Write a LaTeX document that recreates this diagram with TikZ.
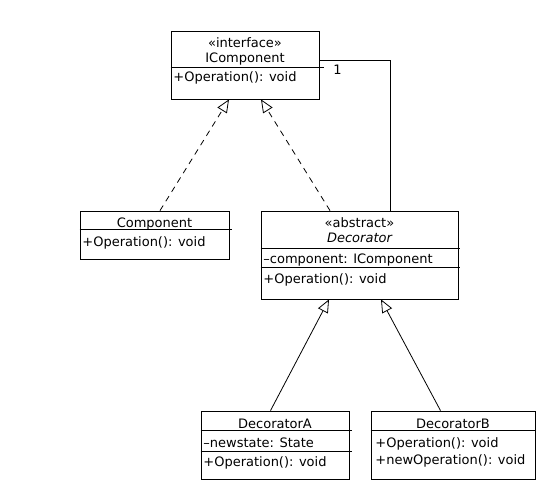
\documentclass[tikz,border=0pt]{standalone}
\usepackage{fontspec}
\setmainfont{DejaVu Sans}
\usetikzlibrary{arrows.meta}
\tikzset{
  umlbox/.style={draw, rectangle, inner sep=0pt},
  lbl/.style={anchor=base west, inner sep=0pt},
  ttl/.style={anchor=base, inner sep=0pt},
  realize/.style={dash pattern=on 6pt off 5pt, -{Triangle[open, length=13pt, width=11pt]}},
  inherit/.style={-{Triangle[open, length=13pt, width=11pt]}}
}
\begin{document}
\begin{tikzpicture}[x=1pt,y=1pt,yscale=-1,line width=0.8pt,font=\fontsize{13}{15}\selectfont]
\useasboundingbox (0,0) rectangle (560,500);
\node[umlbox, minimum width=148pt, minimum height=68pt] (icomp) at (245,65) {};
\node[umlbox, minimum width=149pt, minimum height=48pt] (comp) at (154.5,235) {};
\node[umlbox, minimum width=197pt, minimum height=88pt] (decor) at (359.5,255) {};
\node[umlbox, minimum width=148pt, minimum height=68pt] (decA) at (275,445) {};
\node[umlbox, minimum width=164pt, minimum height=68pt] (decB) at (453,445) {};
\draw (icomp.west |- 0,67) -- ++(153,0);
\draw (comp.west |- 0,229) -- ++(152,0);
\draw (decor.west |- 0,248) -- ++(199,0) (decor.west |- 0,267) -- ++(199,0);
\draw (decA.west |- 0,430) -- ++(151,0) (decA.west |- 0,451) -- ++(151,0);
\draw (decB.west |- 0,430) -- ++(164,0);
\node[ttl] (icompst) at (245,48) {«interface»};
\node[ttl] (icompname) at (245,63) {IComponent};
\node[lbl] (icompop) at (173,82) {+Operation(): void};
\node[ttl] (compname) at (154.5,227) {Component};
\node[lbl] (compop) at (82,247) {+Operation(): void};
\node[ttl] (decorst) at (359.5,228) {«abstract»};
\node[ttl] (decorname) at (359.5,243) {\itshape Decorator};
\node[lbl] (decorattr) at (263,263) {–component: IComponent};
\node[lbl] (decorop) at (263,283) {+Operation(): void};
\node[ttl] (decAname) at (275,428) {DecoratorA};
\node[lbl] (decAattr) at (203,447) {–newstate: State};
\node[lbl] (decAop) at (203,466) {+Operation(): void};
\node[ttl] (decBname) at (453,428) {DecoratorB};
\node[lbl] (decBop) at (375,447) {+Operation(): void};
\node[lbl] (decBnew) at (375,464) {+newOperation(): void};
\node[lbl] (mult) at (333,75) {1};
\draw[realize] (comp.north -| 160,0) -- (icomp.south -| 229,0);
\draw[realize] (decor.north -| 330,0) -- (icomp.south -| 261,0);
\draw[inherit] (decA.north -| 270.5,0) -- (decor.south -| 329,0);
\draw[inherit] (decB.north -| 440.5,0) -- (decor.south -| 381,0);
\draw (icomp.east |- 0,60) -| (decor.north -| 390,0);
\end{tikzpicture}
\end{document}
